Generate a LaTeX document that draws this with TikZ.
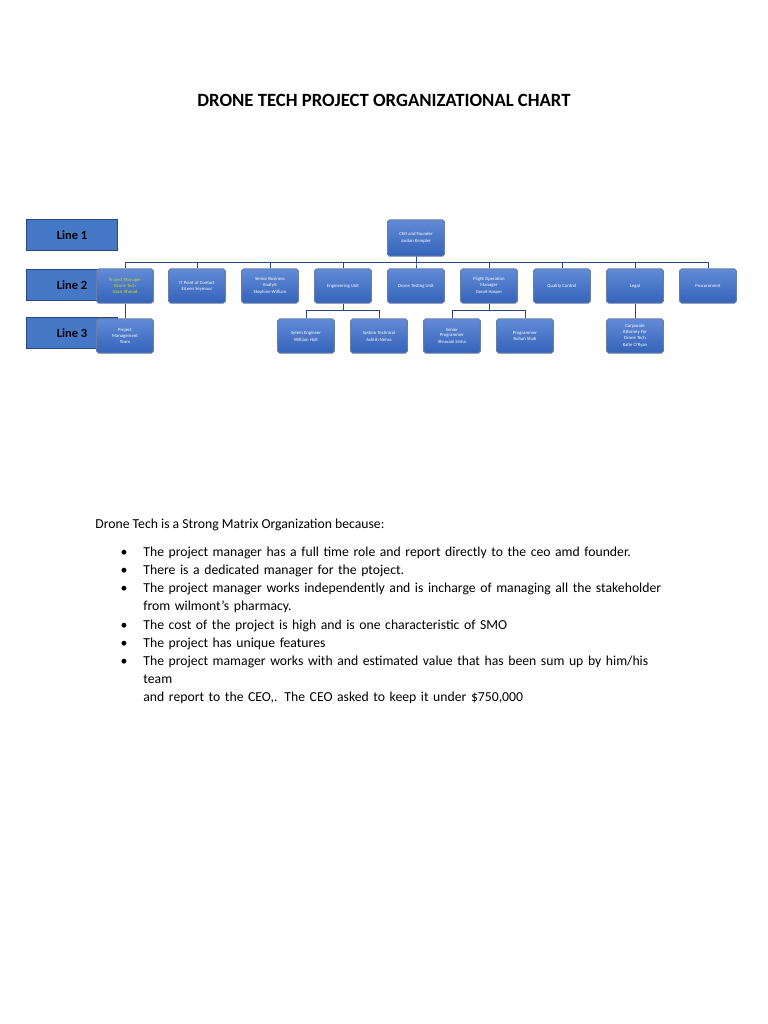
\documentclass[tikz,border=0pt]{standalone}
\usepackage{fontspec}
\setmainfont{Carlito}
\usetikzlibrary{positioning}
\definecolor{boxblue}{RGB}{58,110,205}
\definecolor{boxedge}{RGB}{40,70,130}
\definecolor{linelbl}{RGB}{70,120,200}
\begin{document}
\begin{tikzpicture}
    [
        x = 0.282mm, y = -0.282mm,
        unit/.style = {
            draw=boxedge!70, rounded corners=1.5pt, thick,
            top color=boxblue!80!white, bottom color=boxblue!90!black,
            text=white, font=\fontsize{3.8}{4.6}\selectfont, align=center,
            minimum width=16mm, minimum height=9.6mm, inner sep=1pt},
        linebox/.style = {
            draw=boxedge, fill=linelbl, thick,
            minimum width=25.6mm, minimum height=8.6mm,
            font=\bfseries\fontsize{10}{12}\selectfont},
        tie/.style = {draw=boxedge, thick}
    ]
    \useasboundingbox (0,0) rectangle (768,1024);
    \node [font=\bfseries\fontsize{15}{17}\selectfont] (Title) at (384,100) {DRONE TECH PROJECT ORGANIZATIONAL CHART};
    % row labels
    \node [linebox] (LineA) at (72,235) {Line 1};
    \node [linebox] (LineB) at (72,285) {Line 2};
    \node [linebox] (LineC) at (72,333) {Line 3};
    % top
    \node [unit, minimum height=10.2mm] (Ceo) at (416,238) {CEO and Founder\\[1pt]Jordan Kempler};
    % second row
    \node [unit, text=yellow!80!green] (Pm) at (125,286) {Project Manager\\Drone Tech\\Uzair Ahmad};
    \node [unit] (It) at (197,286) {IT Point of Contact\\EiLeen Seymour};
    \node [unit] (Ba) at (270,286) {Senior Business\\Analyst\\[1pt]Stephine William};
    \node [unit] (Eng) at (343,286) {Engineering Unit};
    \node [unit] (Test) at (416,286) {Drone Testing Unit};
    \node [unit] (Flight) at (489,286) {Flight Operation\\Manager\\[1pt]Gerait Hasper};
    \node [unit] (Qc) at (562,286) {Quality Control};
    \node [unit] (Legal) at (635,286) {Legal};
    \node [unit] (Proc) at (708,286) {Procurement};
    % third row
    \node [unit] (Team) at (125,336) {Project\\Management\\Team};
    \node [unit] (SysEng) at (306,336) {Sytem Engineer\\[1pt]William Holt};
    \node [unit] (SysTech) at (379,336) {System Technical\\[1pt]Ashish Nehra};
    \node [unit] (SenProg) at (452,336) {Senior\\Programmer\\[1pt]Shravani Sinha};
    \node [unit] (Prog) at (525,336) {Programmer\\[1pt]Rohan Shah};
    \node [unit] (Atty) at (635,336) {Corporate\\Attorney For\\Drone Tech\\[1pt]Katie O'Ryan};
    % connectors
    \foreach \n in {Pm,It,Ba,Eng,Test,Flight,Qc,Legal,Proc}
        \draw [tie] (Ceo.south) -- ++(0,6) -| (\n.north);
    \draw [tie] (Pm) -- (Team);
    \draw [tie] (Legal) -- (Atty);
    \foreach \n in {SysEng,SysTech}
        \draw [tie] (Eng.south) -- ++(0,7) -| (\n.north);
    \foreach \n in {SenProg,Prog}
        \draw [tie] (Flight.south) -- ++(0,7) -| (\n.north);
    % text
    \node [anchor=west, font=\fontsize{11}{12}\selectfont] (Intro) at (91,525) {Drone Tech is a Strong Matrix Organization because:};
    \node [anchor=north west, text width=155mm, align=left, inner sep=0pt,
           font=\fontsize{11}{14.6}\selectfont] (Reasons) at (112,546) {%
        \vspace*{-\baselineskip}
        \begin{itemize}\setlength{\itemsep}{0pt}\setlength{\parskip}{0pt}\setlength{\topsep}{0pt}
        \setlength{\leftmargin}{7.5mm}\setlength{\labelsep}{4.5mm}\raggedright
        \item The project manager has a full time role and report directly to the ceo amd founder.
        \item There is a dedicated manager for the ptoject.
        \item The project manager works independently and is incharge of managing all the stakeholder\\from wilmont's pharmacy.
        \item The cost of the project is high and is one characteristic of SMO
        \item The project has unique features
        \item The project mamager works with and estimated value that has been sum up by him/his team\\and report to the CEO,. The CEO asked to keep it under \$750,000
        \end{itemize}};
\end{tikzpicture}
\end{document}
